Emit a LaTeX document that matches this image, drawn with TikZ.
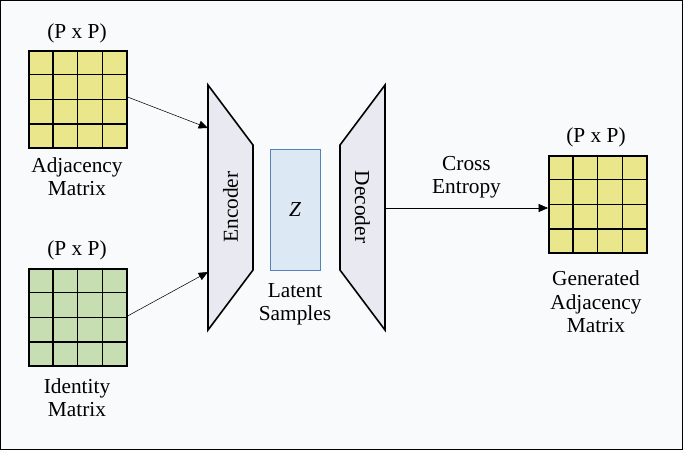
\documentclass[tikz,border=0pt]{standalone}
\usepackage{fontspec}
\setmainfont{Liberation Serif}
\usetikzlibrary{arrows.meta,calc}
\definecolor{adjyellow}{RGB}{234,230,140}
\definecolor{idgreen}{RGB}{198,222,178}
\definecolor{netgray}{RGB}{232,233,241}
\definecolor{zblue}{RGB}{220,232,244}
\definecolor{zedge}{RGB}{84,130,190}
\definecolor{bgpaper}{RGB}{248,250,252}
\tikzset{
  lbl/.style={font=\fontsize{16}{17.5}\selectfont,align=center,inner sep=0pt},
  link/.style={-{Triangle[length=7pt,width=6pt]}},
}
\begin{document}
\begin{tikzpicture}[x=0.75pt,y=-0.75pt]
\draw[fill=bgpaper] (0.5,0.5) rectangle (682.5,449.5);
\useasboundingbox (0,0) rectangle (683,450);

% matrices
\foreach \mx/\my/\col/\nm in {28/50/adjyellow/adj,28/268/idgreen/ident,548/155/adjyellow/gen}{
  \node[draw=black,line width=1.2pt,fill=\col,minimum width=73.5pt,minimum height=72.75pt,inner sep=0pt,anchor=north west] (\nm) at (\mx,\my) {};
  \foreach \k in {1,2,3}{
    \draw[line width=1pt] ($(\nm.north west)!\k/4!(\nm.north east)$) -- ($(\nm.south west)!\k/4!(\nm.south east)$);
    \draw[line width=1pt] ($(\nm.north west)!\k/4!(\nm.south west)$) -- ($(\nm.north east)!\k/4!(\nm.south east)$);
  }
}
\node[lbl] (adjsize) at (77,33) {(P x P)};
\node[lbl] (adjname) at (77,177) {Adjacency\\Matrix};
\node[lbl] (idsize) at (77,250) {(P x P)};
\node[lbl] (idname) at (77,398) {Identity\\Matrix};
\node[lbl] (gensize) at (596,137) {(P x P)};
\node[lbl] (genname) at (596,302) {Generated\\Adjacency\\Matrix};

% encoder, latent, decoder
\draw[line width=1.2pt,fill=netgray] (208,85) -- (253,145) -- (253,270) -- (208,330) -- cycle;
\node[lbl,rotate=90] (enc) at (230.5,207) {Encoder};
\node[draw=zedge,fill=zblue,minimum width=37.5pt,minimum height=90.75pt,inner sep=0pt,font=\fontsize{16}{17.5}\selectfont] (z) at (295,209.5) {\itshape Z};
\node[lbl] (latent) at (295,304) {Latent\\Samples};
\draw[line width=1.2pt,fill=netgray] (385,85) -- (340,145) -- (340,270) -- (385,330) -- cycle;
\node[lbl,rotate=-90] (dec) at (362.5,207) {Decoder};
\coordinate (decout) at (385,208);
\coordinate (encin1) at (208,128);
\coordinate (encin2) at (208,272);

% connectors
\draw[link,thin] (adj.east |- 0,97) -- (encin1);
\draw[link,thin] (ident.east |- 0,316) -- (encin2);
\draw[link] (decout) -- (gen.west |- decout) node[lbl,midway,above=7pt] {Cross\\Entropy};
\end{tikzpicture}
\end{document}
